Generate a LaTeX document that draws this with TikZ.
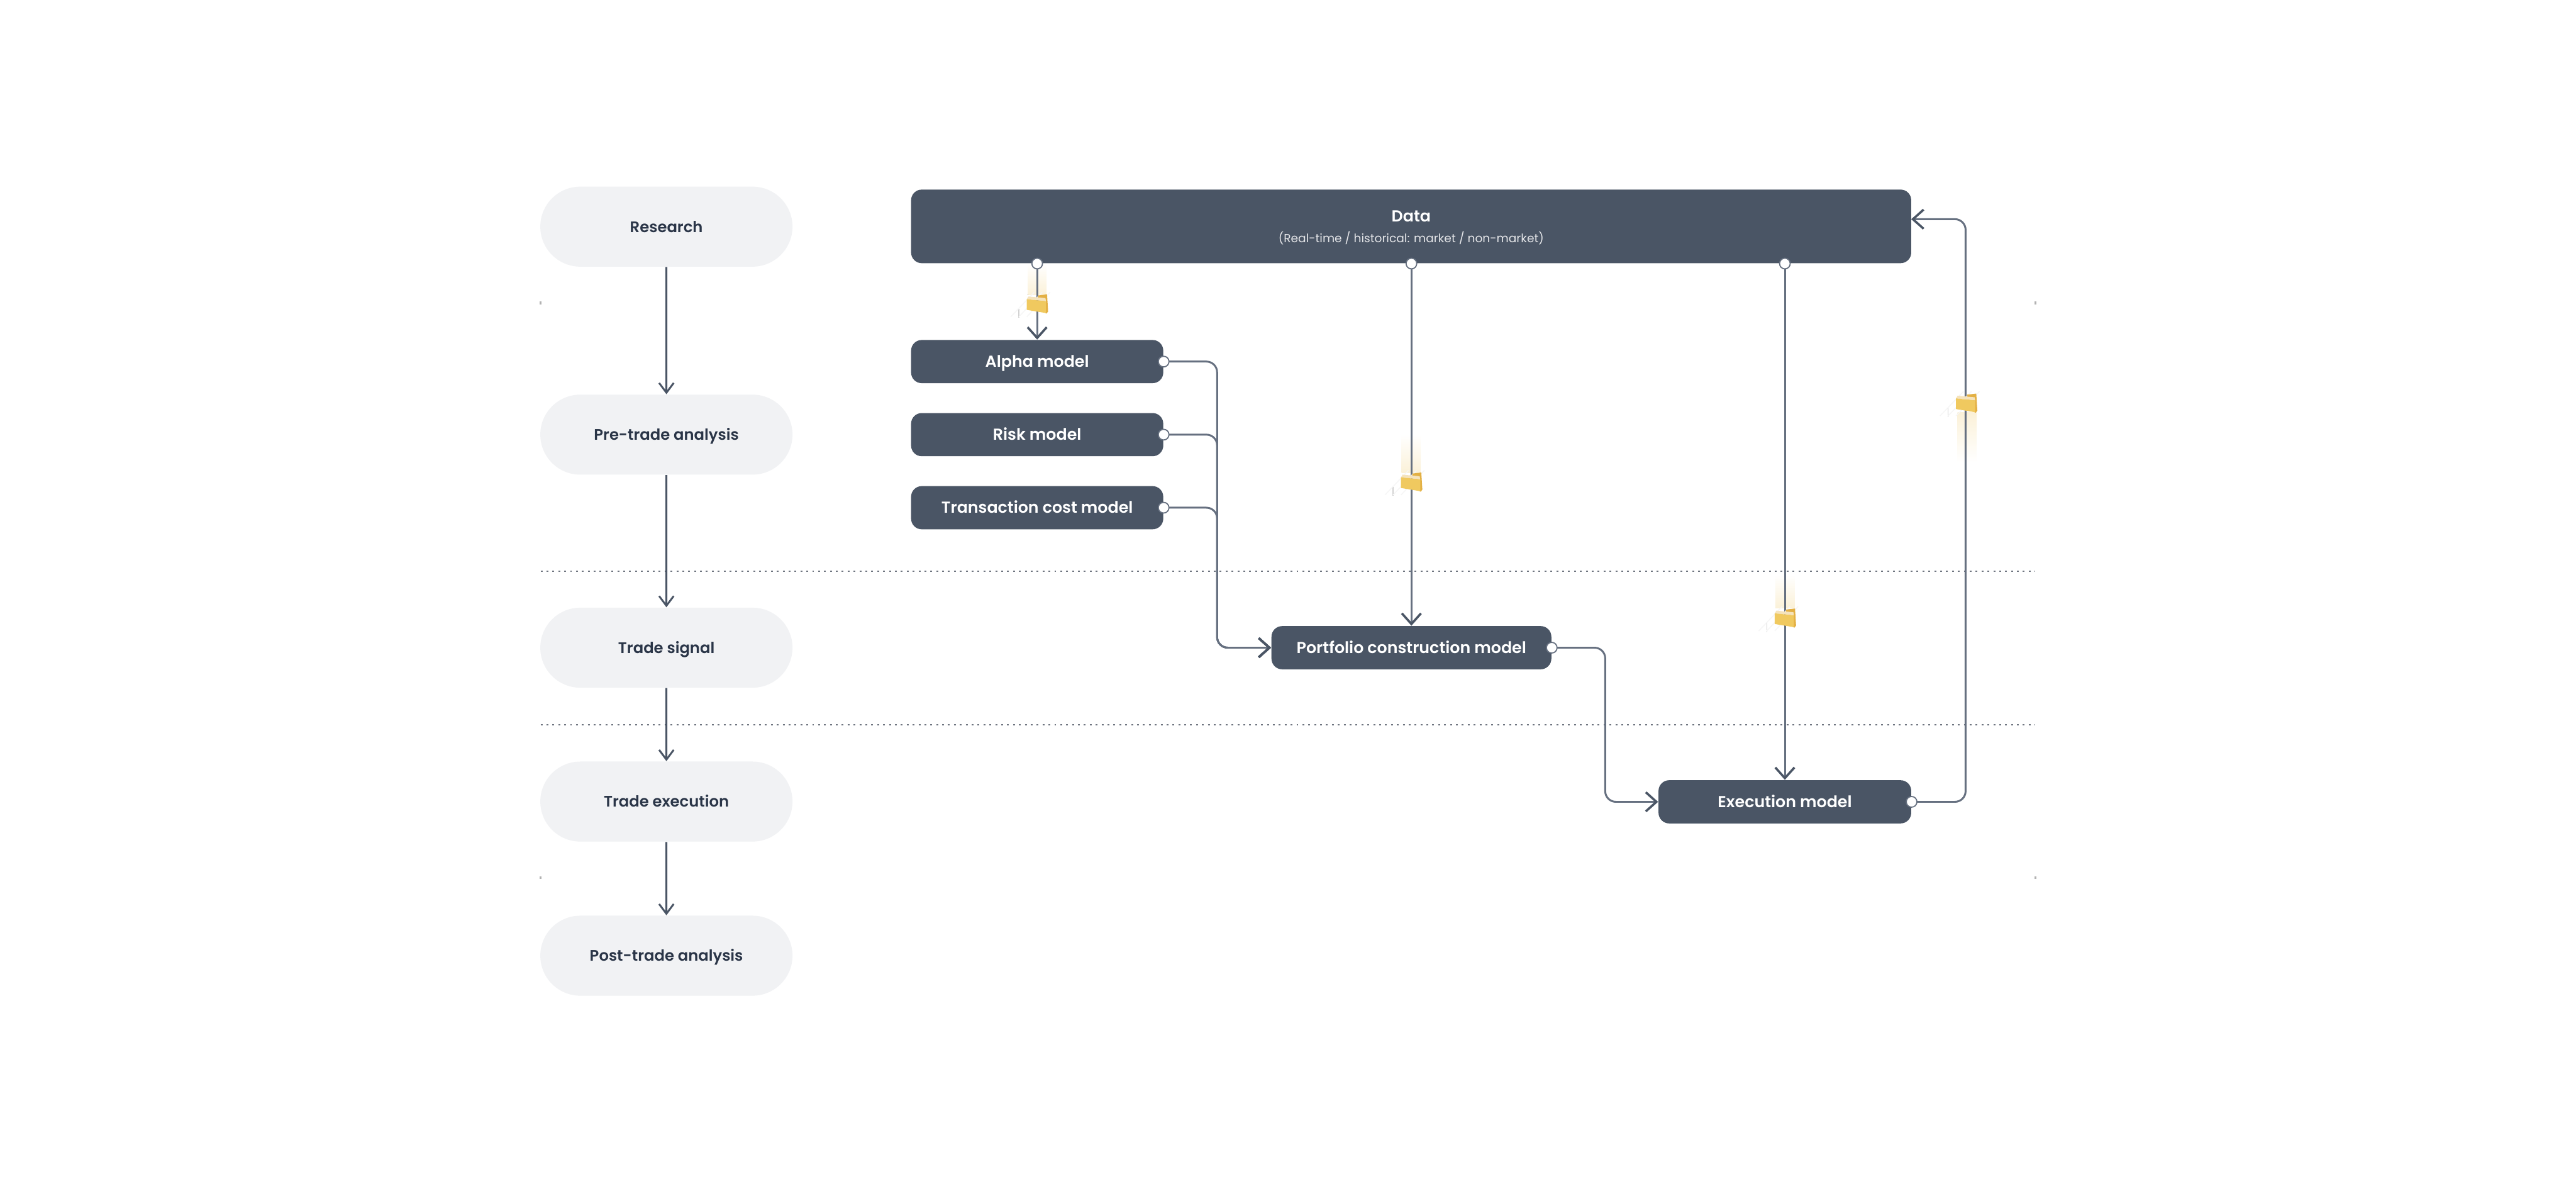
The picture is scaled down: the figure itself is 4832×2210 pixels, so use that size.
\documentclass[tikz,border=0pt]{standalone}
\usepackage{fontspec}
\setmainfont{Poppins}[BoldFont={* SemiBold}]
\usetikzlibrary{arrows.meta,shapes.misc}
\definecolor{slatebox}{HTML}{4A5565}
\definecolor{pillfill}{HTML}{F1F2F4}
\definecolor{pilltext}{HTML}{2A3547}
\definecolor{linkcol}{HTML}{667080}
\definecolor{rulecol}{HTML}{6F7580}
\definecolor{foldfront}{HTML}{F0C95F}
\definecolor{foldback}{HTML}{E3B044}
\definecolor{foldpaper}{HTML}{F5E3BC}
\definecolor{glowcol}{HTML}{FBF1D8}
\tikzset{
  x=0.01cm,y=-0.01cm,
  pill/.style={rounded rectangle,fill=pillfill,minimum width=473*0.01cm,minimum height=150*0.01cm,inner sep=0pt,text=pilltext,font=\fontsize{8.15}{9.5}\selectfont\bfseries,text height=6.3pt,text depth=0.4pt},
  modelbox/.style={draw=none,fill=slatebox,rounded corners=20*0.01cm,minimum height=81*0.01cm,inner sep=0pt,text=white,font=\fontsize{8.5}{9.5}\selectfont\bfseries,text height=6.3pt,text depth=0.4pt},
  port/.style={circle,draw=linkcol,line width=0.6pt,fill=white,minimum size=18*0.01cm,inner sep=0pt},
  flowlink/.style={draw=slatebox,line width=1pt,-{Straight Barb[length=5.2pt,width=7.8pt,line width=1pt]}},
  modellink/.style={draw=linkcol,line width=1pt,rounded corners=20*0.01cm,-{Straight Barb[length=5.7pt,width=10.2pt,line width=1.2pt,color=slatebox]}},
  zoneline/.style={draw=rulecol,line width=0.6pt,dash pattern=on 1pt off 2.15pt},
  glowpatch/.style={top color=white,bottom color=glowcol,draw=none},
}
\newcommand{\folderglyph}[2]{%
  \begin{scope}[shift={(#1,#2)}]
    \draw[gray!35,line width=0.4pt] (-35,9) -- (-35,26);
    \foreach \dd in {-20,-5,10}{\draw[gray!7,line width=0.5pt] (-30+\dd,24) -- (\dd+14,-22);}
    \fill[foldback] (1,-16) -- (18,-18) -- (20,14) -- (17,18) -- (1,10) -- cycle;
    \fill[foldpaper] (-17,-14) -- (15,-11) -- (16,-5) -- (-20,-9) -- cycle;
    \fill[foldfront] (-20,-9) -- (16,-5) -- (16,17) -- (-20,11) -- cycle;
  \end{scope}}
\begin{document}
\begin{tikzpicture}
\useasboundingbox (0,0) rectangle (4832,2210);
\fill[white] (0,0) rectangle (4832,2210);
% zone rules and corner ticks
\coordinate (ruleAl) at (1014,1071); \coordinate (ruleAr) at (3818,1071);
\coordinate (ruleBl) at (1014,1359); \coordinate (ruleBr) at (3818,1359);
\draw[zoneline] (ruleAl) -- (ruleAr);
\draw[zoneline] (ruleBl) -- (ruleBr);
\foreach \px/\py in {1014/568,3818/568,1014/1646,3818/1646}{\fill[gray!60] (\px-1.5,\py-2.5) rectangle (\px+1.5,\py+2.5);}
% glow behind the folders
\fill[glowpatch] (1928,495) rectangle (1963,553);
\fill[glowpatch] (2629,815) rectangle (2665,886);
\fill[glowpatch] (3330,1078) rectangle (3366,1140);
\fill[top color=glowcol,bottom color=white,draw=none] (3672,773) rectangle (3708,866);
% process column
\node[pill] (research) at (1250,425) {Research};
\node[pill] (pretrade) at (1250,815) {Pre-trade analysis};
\node[pill] (signal) at (1250,1214.5) {Trade signal};
\node[pill] (execution) at (1250,1503) {Trade execution};
\node[pill] (posttrade) at (1250,1792) {Post-trade analysis};
\draw[flowlink] (research) -- (pretrade);
\draw[flowlink] (pretrade) -- (signal);
\draw[flowlink] (signal) -- (execution);
\draw[flowlink] (execution) -- (posttrade);
% model boxes
\node[modelbox,minimum width=1876*0.01cm,minimum height=138*0.01cm] (data) at (2647,424.5) {};
\node[text=white,font=\fontsize{8.5}{9.5}\selectfont\bfseries] (datatitle) at (2647,405) {Data};
\node[text=white!85!slatebox,font=\fontsize{6.25}{7.5}\selectfont] (datasub) at (2647,447) {(Real-time / historical: market / non-market)};
\node[modelbox,minimum width=473*0.01cm] (alpha) at (1945.5,678) {Alpha model};
\node[modelbox,minimum width=473*0.01cm] (risk) at (1945.5,815) {Risk model};
\node[modelbox,minimum width=473*0.01cm] (tcost) at (1945.5,952) {Transaction cost model};
\node[modelbox,minimum width=525*0.01cm] (portfolio) at (2647.5,1214.5) {Portfolio construction model};
\node[modelbox,minimum width=474*0.01cm] (execmodel) at (3348,1503.5) {Execution model};
% ports
\node[port] (dataA) at (alpha.north |- data.south) {};
\node[port] (dataP) at (portfolio.north |- data.south) {};
\node[port] (dataE) at (execmodel.north |- data.south) {};
\node[port] (alphaO) at (alpha.east) {};
\node[port] (riskO) at (risk.east) {};
\node[port] (tcostO) at (tcost.east) {};
\node[port] (portO) at (portfolio.east) {};
\node[port] (execO) at (execmodel.east) {};
\coordinate (feedback) at (3585,411);
% connectors
\draw[modellink] (dataA) -- (alpha.north);
\draw[modellink] (dataP) -- (portfolio.north);
\draw[modellink] (dataE) -- (execmodel.north);
\draw[modellink] (alphaO) -| (2283,1214.5) -- (portfolio.west);
\draw[modellink] (riskO) -| (2283,1214.5) -- (portfolio.west);
\draw[modellink] (tcostO) -| (2283,1214.5) -- (portfolio.west);
\draw[modellink] (portO) -| (3011,1503.5) -- (execmodel.west);
\draw[modellink] (execO) -| (3687,411) -- (feedback);
% redraw ports over connectors
\foreach \pp in {dataA,dataP,dataE,alphaO,riskO,tcostO,portO,execO}{\fill[white] (\pp) circle (10); \draw[linkcol,line width=0.6pt] (\pp) circle (10);}
% folders
\folderglyph{1946}{570}
\folderglyph{2648}{904}
\folderglyph{3349}{1159}
\folderglyph{3689}{756}
\end{tikzpicture}
\end{document}
